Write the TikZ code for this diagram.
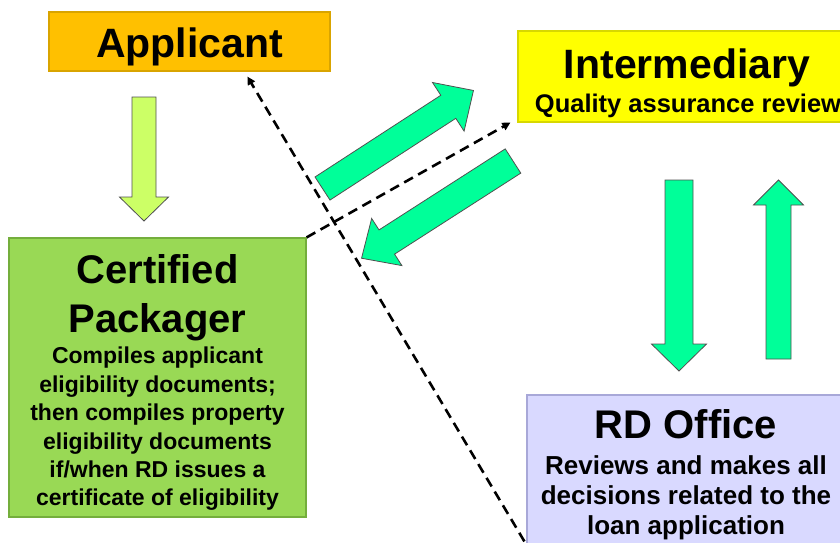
\documentclass[tikz,border=0pt]{standalone}
\usepackage{fontspec}
\setmainfont{Liberation Sans}
\usetikzlibrary{arrows.meta,calc}
\definecolor{appfill}{HTML}{FFC000}
\definecolor{appline}{HTML}{D9A400}
\definecolor{cpfill}{HTML}{99D955}
\definecolor{cpline}{HTML}{74AE3C}
\definecolor{intfill}{HTML}{FFFF00}
\definecolor{intline}{HTML}{D8D800}
\definecolor{rdfill}{HTML}{D9D9FF}
\definecolor{rdline}{HTML}{A8A8D8}
\definecolor{limefill}{HTML}{CCFF66}
\definecolor{springfill}{HTML}{00FF99}
\definecolor{arrline}{HTML}{505050}
\newcommand\fs[2]{\fontsize{#1}{#2}\selectfont\bfseries}
\tikzset{
  box/.style={draw=#1, line width=1.2pt, inner sep=0pt, anchor=center},
  fatline/.style={draw=arrline, line width=0.8pt, line join=miter},
  dashline/.style={draw=black, line width=2.6pt, dash pattern=on 10pt off 6pt, -{Triangle[length=8pt,width=8pt]}},
  lbl/.style={inner sep=0pt, anchor=base, align=center}
}
\newcommand\fatarrow[7]{%
  \begin{scope}[shift={#1},rotate=#2]
    \draw[fatline,fill=#7] (0,-#4) -- ({#3-#6},-#4) -- ({#3-#6},-#5) -- (#3,0)
      -- ({#3-#6},#5) -- ({#3-#6},#4) -- (0,#4) -- cycle;
  \end{scope}}
\begin{document}
\begin{tikzpicture}[x=1pt,y=-1pt]
\useasboundingbox (0,0) rectangle (840,542);
% boxes
\node[box=appline, fill=appfill, minimum width=281pt, minimum height=59pt] (app) at (189.5,41.5) {};
\node[box=cpline, fill=cpfill, minimum width=297pt, minimum height=279pt] (cp) at (157.5,377.5) {};
\node[box=intline, fill=intfill, minimum width=338pt, minimum height=91pt] (int) at (687,76.5) {};
\node[box=rdline, fill=rdfill, minimum width=318pt, minimum height=170pt] (rd) at (686,480) {};
% fat arrows
\fatarrow{(144,97)}{-90}{124}{12}{24.5}{24}{limefill}
\fatarrow{(322.5,188.5)}{33}{180}{13.75}{29}{30}{springfill}
\fatarrow{(513,161)}{212.7}{180}{14.4}{28}{30}{springfill}
\fatarrow{(679,180)}{-90}{191}{14}{27.5}{27}{springfill}
\fatarrow{(778.5,359)}{90}{179}{12.5}{25}{25}{springfill}
% dashed connectors
\coordinate (d1s) at ($(rd.north west)+(-2,147)$);
\coordinate (d1e) at ($(app.south west)+(199,5)$);
\coordinate (d2e) at ($(int.south west)+(-7,0)$);
\draw[dashline] (d1s) -- (d1e);
\draw[dashline] (cp.north east) -- (d2e);
% texts
\node[lbl, font=\fs{41}{41}] (appt) at (189.5,57) {Applicant};
\node[lbl, font=\fs{40}{49}] (cpt1) at (157.5,283) {Certified};
\node[lbl, font=\fs{40}{49}] (cpt2) at (157.5,332) {Packager};
\node[inner sep=0pt, anchor=north, align=center, font=\fs{23}{28.4}] (cpb) at (157.5,347) {Compiles applicant\\eligibility documents;\\then compiles property\\eligibility documents\\if/when RD issues a\\certificate of eligibility};
\node[lbl, font=\fs{41}{41}] (intt) at (687,78) {Intermediary};
\node[lbl, font=\fs{25.5}{25.5}] (intb) at (688,112) {Quality assurance review};
\node[lbl, font=\fs{40}{40}] (rdt) at (686,438) {RD Office};
\node[inner sep=0pt, anchor=north, align=center, font=\fs{26}{30}] (rdb) at (686,455) {Reviews and makes all\\decisions related to the\\loan application};
\end{tikzpicture}
\end{document}
